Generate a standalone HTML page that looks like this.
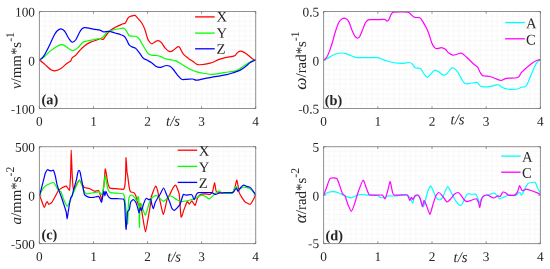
<!DOCTYPE html>
<html><head><meta charset="utf-8"><title>Figure</title>
<style>html,body{margin:0;padding:0;background:#fff}body{width:550px;height:269px;overflow:hidden}</style></head>
<body>
<svg width="550" height="269" viewBox="0 0 550 269" style="display:block">
<rect width="550" height="269" fill="#fff"/>
<path d="M44.81 11.50V108.50M50.21 11.50V108.50M55.62 11.50V108.50M61.03 11.50V108.50M66.44 11.50V108.50M71.84 11.50V108.50M77.25 11.50V108.50M82.66 11.50V108.50M88.07 11.50V108.50M93.47 11.50V108.50M98.88 11.50V108.50M104.29 11.50V108.50M109.70 11.50V108.50M115.10 11.50V108.50M120.51 11.50V108.50M125.92 11.50V108.50M131.33 11.50V108.50M136.73 11.50V108.50M142.14 11.50V108.50M147.55 11.50V108.50M152.96 11.50V108.50M158.36 11.50V108.50M163.77 11.50V108.50M169.18 11.50V108.50M174.59 11.50V108.50M179.99 11.50V108.50M185.40 11.50V108.50M190.81 11.50V108.50M196.22 11.50V108.50M201.62 11.50V108.50M207.03 11.50V108.50M212.44 11.50V108.50M217.85 11.50V108.50M223.25 11.50V108.50M228.66 11.50V108.50M234.07 11.50V108.50M239.48 11.50V108.50M244.88 11.50V108.50M250.29 11.50V108.50M39.40 16.35H255.70M39.40 21.20H255.70M39.40 26.05H255.70M39.40 30.90H255.70M39.40 35.75H255.70M39.40 40.60H255.70M39.40 45.45H255.70M39.40 50.30H255.70M39.40 55.15H255.70M39.40 60.00H255.70M39.40 64.85H255.70M39.40 69.70H255.70M39.40 74.55H255.70M39.40 79.40H255.70M39.40 84.25H255.70M39.40 89.10H255.70M39.40 93.95H255.70M39.40 98.80H255.70M39.40 103.65H255.70" stroke="#f6f6f6" stroke-width="0.7" fill="none"/>
<clipPath id="cla"><rect x="39.4" y="11.5" width="216.3" height="97.0"/></clipPath>
<g clip-path="url(#cla)" fill="none" stroke-width="1.2" stroke-linejoin="round" stroke-linecap="round">
<path d="M39.6 60.0C40.2 60.5 41.8 61.8 43.0 62.8C44.2 63.8 45.5 65.0 46.9 66.2C48.3 67.4 49.9 69.2 51.4 70.0C52.9 70.8 54.2 71.0 55.8 70.7C57.4 70.5 59.1 69.7 61.0 68.5C62.9 67.3 65.4 64.5 67.0 63.3C68.6 62.0 69.8 61.9 70.7 61.0C71.6 60.1 71.3 58.8 72.2 57.8C73.1 56.8 74.7 56.3 75.9 55.1C77.1 53.9 78.2 52.1 79.6 50.6C81.0 49.1 82.4 47.6 84.1 46.2C85.8 44.8 88.0 43.4 90.0 42.4C92.0 41.4 94.3 40.8 96.0 40.2C97.7 39.6 99.2 38.8 100.4 38.7C101.6 38.6 102.3 39.8 103.2 39.4C104.1 39.0 104.5 37.6 105.6 36.2C106.7 34.8 108.2 32.4 109.7 31.0C111.2 29.6 112.8 28.8 114.9 27.6C117.0 26.4 120.6 24.8 122.3 24.0C124.0 23.2 124.3 24.2 125.3 23.1C126.3 22.0 127.2 18.8 128.3 17.6C129.4 16.4 130.9 16.3 132.0 15.9C133.1 15.5 134.1 15.1 135.0 15.4C135.9 15.7 136.1 16.4 137.2 17.6C138.3 18.8 140.4 20.9 141.6 22.8C142.8 24.7 143.6 26.2 144.6 28.8C145.6 31.4 146.8 36.3 147.6 38.5C148.4 40.7 148.8 40.9 149.5 41.8C150.2 42.7 150.8 43.8 151.8 43.8C152.8 43.8 154.3 42.1 155.4 41.6C156.5 41.1 157.4 40.5 158.4 40.7C159.4 40.9 160.2 41.4 161.4 42.7C162.6 44.0 164.1 47.0 165.4 48.4C166.7 49.8 167.8 51.0 169.1 51.4C170.3 51.8 171.8 51.2 172.9 50.6C174.1 50.0 175.1 48.7 176.0 48.0C176.9 47.3 177.9 46.5 178.6 46.6C179.3 46.7 179.4 47.1 180.2 48.4C181.0 49.7 182.0 52.5 183.4 54.2C184.8 55.9 186.7 57.1 188.4 58.4C190.1 59.6 191.9 60.7 193.4 61.7C194.9 62.7 195.9 64.2 197.6 64.6C199.3 65.0 201.4 64.5 203.5 64.3C205.6 64.0 208.3 63.5 210.1 63.1C211.9 62.7 212.9 62.3 214.3 61.7C215.7 61.1 216.7 60.3 218.5 59.6C220.3 58.9 222.5 58.2 225.2 57.6C227.8 57.0 232.6 56.5 234.4 55.9C236.2 55.3 235.4 54.9 236.1 54.2C236.8 53.5 237.6 52.2 238.6 51.7C239.6 51.2 240.5 51.0 241.9 51.4C243.3 51.8 245.3 53.0 247.0 54.2C248.7 55.4 250.6 57.4 252.0 58.4C253.4 59.4 254.9 59.7 255.5 60.0" stroke="#ff0000"/>
<path d="M39.6 60.0C40.3 59.5 42.3 58.4 44.0 57.0C45.7 55.6 47.7 53.2 49.9 51.4C52.1 49.6 55.2 47.3 57.3 46.2C59.4 45.1 60.6 44.3 62.5 44.7C64.4 45.1 66.8 47.4 68.5 48.4C70.2 49.4 71.3 50.7 72.9 50.6C74.5 50.5 76.5 49.0 78.1 47.6C79.7 46.2 81.1 43.5 82.6 42.4C84.1 41.3 85.0 41.5 87.0 41.0C89.0 40.5 92.1 40.0 94.5 39.5C96.9 39.0 100.0 38.5 101.5 38.0C103.0 37.5 102.8 37.6 103.5 36.8C104.2 36.0 105.0 34.3 106.0 33.3C107.0 32.3 108.2 31.6 109.7 31.0C111.2 30.4 113.1 29.9 114.9 29.5C116.8 29.1 119.3 28.7 120.8 28.5C122.3 28.3 122.9 28.0 123.8 28.3C124.7 28.6 125.1 29.1 126.0 30.3C126.9 31.5 128.0 34.5 129.0 35.5C130.0 36.5 130.8 36.0 132.0 36.2C133.2 36.4 135.2 36.0 136.4 36.5C137.6 37.0 138.3 37.7 139.4 39.2C140.5 40.7 141.6 43.2 143.0 45.5C144.4 47.8 146.2 51.2 147.6 52.8C149.0 54.4 149.8 54.6 151.3 55.1C152.8 55.6 154.9 55.2 156.5 55.5C158.1 55.8 159.5 56.1 161.0 56.6C162.5 57.1 163.9 58.3 165.4 58.8C166.9 59.3 168.2 59.4 170.0 59.7C171.8 60.1 174.0 60.1 175.9 60.9C177.8 61.7 179.3 62.9 181.7 64.3C184.1 65.7 187.4 68.0 190.1 69.3C192.8 70.6 195.1 71.4 197.6 72.1C200.1 72.8 202.7 73.1 205.1 73.5C207.5 73.9 209.6 74.4 211.8 74.4C214.0 74.4 216.3 74.1 218.5 73.7C220.7 73.3 222.7 72.7 225.2 72.3C227.7 71.9 231.1 72.1 233.6 71.4C236.1 70.8 238.4 69.5 240.3 68.4C242.2 67.4 243.6 66.2 245.3 65.1C247.0 64.0 248.6 62.6 250.3 61.7C252.0 60.8 254.6 60.1 255.5 59.8" stroke="#00ff00"/>
<path d="M39.6 60.0C40.3 59.3 42.2 58.4 43.9 55.8C45.6 53.2 48.2 47.9 49.9 44.4C51.6 40.9 53.0 37.3 54.3 35.0C55.6 32.7 56.4 31.5 57.5 30.5C58.6 29.5 59.8 28.7 61.0 28.8C62.2 28.9 63.2 29.5 64.5 31.0C65.8 32.5 67.2 36.1 68.5 38.0C69.8 39.9 71.0 42.0 72.2 42.2C73.5 42.5 74.7 41.3 76.0 39.5C77.3 37.7 78.7 33.5 80.0 31.5C81.3 29.5 81.9 28.0 84.1 27.6C86.3 27.2 90.6 28.7 93.3 29.1C96.0 29.6 98.7 29.9 100.4 30.3C102.1 30.8 102.3 31.6 103.7 31.8C105.1 32.0 107.0 31.1 108.9 31.3C110.8 31.5 112.9 32.4 114.9 33.0C116.9 33.6 119.2 34.1 120.8 34.7C122.4 35.3 123.5 35.5 124.5 36.5C125.5 37.5 126.2 39.1 127.0 40.5C127.8 41.9 128.2 43.6 129.0 44.7C129.8 45.8 130.9 46.3 132.0 46.9C133.1 47.5 134.5 47.4 135.7 48.4C136.9 49.4 138.2 51.2 139.4 52.8C140.6 54.4 141.9 56.8 143.1 58.0C144.3 59.2 145.4 59.2 146.8 60.0C148.2 60.8 149.8 61.5 151.3 62.5C152.8 63.5 154.4 65.4 155.8 66.2C157.2 67.0 158.3 67.4 159.5 67.4C160.7 67.5 162.1 66.8 163.2 66.5C164.3 66.2 165.1 65.5 166.2 65.5C167.3 65.5 168.7 65.6 169.9 66.3C171.1 67.0 172.0 68.0 173.3 69.5C174.6 71.0 176.1 73.5 177.5 75.1C178.9 76.7 180.2 78.6 181.7 79.3C183.2 80.0 184.9 79.3 186.7 79.3C188.5 79.2 191.1 78.9 192.6 79.0C194.1 79.1 194.8 80.0 195.9 80.1C197.0 80.2 197.5 80.1 199.3 79.8C201.1 79.5 204.4 78.6 206.8 78.1C209.2 77.6 211.3 77.2 213.5 76.8C215.7 76.4 218.0 76.2 220.2 75.8C222.4 75.4 224.7 75.1 226.9 74.6C229.1 74.1 231.4 73.3 233.6 72.6C235.8 71.8 238.4 71.1 240.3 70.1C242.2 69.1 243.6 68.0 245.3 66.8C247.0 65.5 248.6 63.7 250.3 62.6C252.0 61.5 254.6 60.4 255.5 60.0" stroke="#0000ff"/>
</g>
<path d="M39.40 11.50H255.70V108.50H39.40ZM39.40 108.50v-2.2M39.40 11.50v2.2M93.47 108.50v-2.2M93.47 11.50v2.2M147.55 108.50v-2.2M147.55 11.50v2.2M201.62 108.50v-2.2M201.62 11.50v2.2M255.70 108.50v-2.2M255.70 11.50v2.2M39.40 11.50h2.2M255.70 11.50h-2.2M39.40 60.00h2.2M255.70 60.00h-2.2M39.40 108.50h2.2M255.70 108.50h-2.2" stroke="#747474" stroke-width="0.8" fill="none"/>
<path d="M329.02 11.50V108.50M334.44 11.50V108.50M339.86 11.50V108.50M345.28 11.50V108.50M350.70 11.50V108.50M356.12 11.50V108.50M361.54 11.50V108.50M366.96 11.50V108.50M372.38 11.50V108.50M377.80 11.50V108.50M383.22 11.50V108.50M388.64 11.50V108.50M394.06 11.50V108.50M399.48 11.50V108.50M404.90 11.50V108.50M410.32 11.50V108.50M415.74 11.50V108.50M421.16 11.50V108.50M426.58 11.50V108.50M432.00 11.50V108.50M437.42 11.50V108.50M442.84 11.50V108.50M448.26 11.50V108.50M453.68 11.50V108.50M459.10 11.50V108.50M464.52 11.50V108.50M469.94 11.50V108.50M475.36 11.50V108.50M480.78 11.50V108.50M486.20 11.50V108.50M491.62 11.50V108.50M497.04 11.50V108.50M502.46 11.50V108.50M507.88 11.50V108.50M513.30 11.50V108.50M518.72 11.50V108.50M524.14 11.50V108.50M529.56 11.50V108.50M534.98 11.50V108.50M323.60 16.35H540.40M323.60 21.20H540.40M323.60 26.05H540.40M323.60 30.90H540.40M323.60 35.75H540.40M323.60 40.60H540.40M323.60 45.45H540.40M323.60 50.30H540.40M323.60 55.15H540.40M323.60 60.00H540.40M323.60 64.85H540.40M323.60 69.70H540.40M323.60 74.55H540.40M323.60 79.40H540.40M323.60 84.25H540.40M323.60 89.10H540.40M323.60 93.95H540.40M323.60 98.80H540.40M323.60 103.65H540.40" stroke="#f6f6f6" stroke-width="0.7" fill="none"/>
<clipPath id="clb"><rect x="323.6" y="11.5" width="216.8" height="97.0"/></clipPath>
<g clip-path="url(#clb)" fill="none" stroke-width="1.2" stroke-linejoin="round" stroke-linecap="round">
<path d="M323.7 60.0C324.6 59.6 327.0 58.6 328.9 57.6C330.8 56.6 332.9 55.1 334.9 54.3C336.9 53.5 338.9 53.1 340.8 53.0C342.7 52.9 344.3 53.1 346.0 53.6C347.7 54.1 349.6 55.2 351.2 55.8C352.8 56.4 353.5 57.0 355.7 57.3C357.9 57.6 361.0 57.5 364.6 57.6C368.2 57.7 374.5 57.4 377.2 57.6C379.9 57.8 379.4 58.2 381.0 58.8C382.6 59.4 384.9 60.4 386.9 61.0C388.9 61.6 391.0 62.1 392.9 62.5C394.8 62.9 396.2 63.1 398.0 63.2C399.8 63.3 401.5 63.4 403.4 63.3C405.3 63.2 407.8 62.4 409.3 62.5C410.8 62.6 411.3 63.1 412.3 64.0C413.3 64.9 413.9 67.0 415.2 67.8C416.5 68.6 418.9 67.5 420.4 68.6C421.9 69.6 422.9 72.7 424.1 74.1C425.3 75.5 426.4 77.1 427.5 77.1C428.6 77.1 429.6 75.2 430.8 74.1C432.0 73.0 433.2 70.8 434.5 70.4C435.8 70.0 436.8 70.8 438.3 71.6C439.8 72.4 442.0 74.9 443.5 75.2C445.0 75.5 446.0 74.5 447.2 73.4C448.4 72.3 449.8 69.5 450.9 68.6C452.0 67.7 452.8 67.7 453.9 68.2C455.0 68.8 456.4 70.2 457.6 71.9C458.8 73.6 460.1 76.7 461.3 78.6C462.5 80.5 463.6 82.7 465.0 83.5C466.4 84.3 467.6 83.7 469.5 83.5C471.4 83.3 475.1 82.2 476.7 82.4C478.3 82.6 478.0 83.8 478.9 84.5C479.8 85.2 479.9 86.4 481.9 86.7C483.9 87.0 488.2 86.8 490.8 86.4C493.4 86.1 495.6 84.5 497.5 84.6C499.4 84.7 500.4 86.5 502.0 87.2C503.6 87.9 504.6 88.7 507.2 89.0C509.8 89.3 515.2 89.3 517.6 89.0C520.0 88.7 520.1 87.6 521.3 87.2C522.5 86.8 524.0 87.2 525.0 86.7C526.0 86.2 526.2 86.1 527.2 84.2C528.2 82.3 529.8 78.3 531.0 75.3C532.2 72.3 533.6 68.7 534.7 66.4C535.8 64.1 536.8 62.7 537.7 61.6C538.6 60.5 539.5 60.0 539.9 59.7" stroke="#00ffff"/>
<path d="M323.7 60.0C324.2 59.5 325.7 58.9 326.7 57.3C327.7 55.7 328.7 53.2 329.7 50.6C330.7 48.0 331.7 44.6 332.6 41.7C333.5 38.8 333.9 36.4 334.9 33.3C335.9 30.1 337.4 25.2 338.6 22.8C339.8 20.4 341.1 19.5 342.3 18.8C343.5 18.1 344.9 18.1 346.0 18.7C347.1 19.2 348.0 20.2 349.0 22.1C350.0 24.0 351.0 27.9 352.0 30.3C353.0 32.6 354.0 34.9 354.9 36.2C355.8 37.5 356.4 37.9 357.2 38.0C357.9 38.1 358.5 38.3 359.4 37.0C360.3 35.7 361.4 32.7 362.4 30.3C363.4 27.9 364.4 24.5 365.4 22.8C366.4 21.1 367.2 20.4 368.3 19.9C369.4 19.4 370.1 19.7 372.0 19.6C373.9 19.6 377.4 19.6 379.5 19.6C381.6 19.6 383.5 19.1 384.7 19.4C385.9 19.6 386.2 21.0 386.9 21.1C387.6 21.2 387.9 21.1 388.7 19.9C389.4 18.7 390.6 15.2 391.4 13.9C392.2 12.6 392.4 12.5 393.6 12.2C394.9 11.9 396.5 11.9 398.9 11.9C401.3 11.9 405.7 11.6 407.8 12.1C409.9 12.6 410.5 14.2 411.6 15.1C412.7 16.0 413.3 16.9 414.5 17.3C415.7 17.7 417.9 17.3 419.0 17.6C420.1 17.9 420.1 17.6 421.2 19.1C422.3 20.6 424.4 24.2 425.7 26.6C426.9 29.0 427.7 30.7 428.7 33.3C429.7 35.9 430.6 40.0 431.6 42.4C432.6 44.8 433.6 46.5 434.6 47.6C435.6 48.7 436.5 48.7 437.6 48.7C438.7 48.7 440.1 47.5 441.3 47.6C442.5 47.7 443.6 48.1 445.0 49.1C446.4 50.1 448.1 52.6 449.5 53.6C450.9 54.6 451.8 55.0 453.2 55.1C454.6 55.2 456.3 54.3 457.7 54.0C459.1 53.7 460.3 52.9 461.4 53.1C462.5 53.3 462.9 54.0 464.3 55.1C465.7 56.2 467.9 58.5 469.5 60.0C471.1 61.5 472.5 63.0 473.9 64.2C475.3 65.4 476.6 66.0 477.7 67.4C478.8 68.8 479.4 71.2 480.2 72.5C481.0 73.8 481.5 74.8 482.4 75.4C483.3 76.0 484.5 75.9 485.8 76.1C487.1 76.3 488.5 76.1 490.1 76.5C491.7 76.9 493.5 77.8 495.3 78.5C497.1 79.2 499.4 80.5 501.2 80.5C503.0 80.5 503.7 78.8 506.4 78.3C509.1 77.8 515.1 78.5 517.6 77.5C520.1 76.5 519.8 74.2 521.3 72.6C522.8 71.0 524.8 69.3 526.5 67.8C528.2 66.3 530.1 64.6 531.7 63.4C533.3 62.2 534.8 61.3 536.2 60.7C537.6 60.1 539.3 59.9 539.9 59.7" stroke="#ff00ff"/>
</g>
<path d="M323.60 11.50H540.40V108.50H323.60ZM323.60 108.50v-2.2M323.60 11.50v2.2M377.80 108.50v-2.2M377.80 11.50v2.2M432.00 108.50v-2.2M432.00 11.50v2.2M486.20 108.50v-2.2M486.20 11.50v2.2M540.40 108.50v-2.2M540.40 11.50v2.2M323.60 11.50h2.2M540.40 11.50h-2.2M323.60 60.00h2.2M540.40 60.00h-2.2M323.60 108.50h2.2M540.40 108.50h-2.2" stroke="#747474" stroke-width="0.8" fill="none"/>
<path d="M44.81 146.70V243.60M50.21 146.70V243.60M55.62 146.70V243.60M61.03 146.70V243.60M66.44 146.70V243.60M71.84 146.70V243.60M77.25 146.70V243.60M82.66 146.70V243.60M88.07 146.70V243.60M93.47 146.70V243.60M98.88 146.70V243.60M104.29 146.70V243.60M109.70 146.70V243.60M115.10 146.70V243.60M120.51 146.70V243.60M125.92 146.70V243.60M131.33 146.70V243.60M136.73 146.70V243.60M142.14 146.70V243.60M147.55 146.70V243.60M152.96 146.70V243.60M158.36 146.70V243.60M163.77 146.70V243.60M169.18 146.70V243.60M174.59 146.70V243.60M179.99 146.70V243.60M185.40 146.70V243.60M190.81 146.70V243.60M196.22 146.70V243.60M201.62 146.70V243.60M207.03 146.70V243.60M212.44 146.70V243.60M217.85 146.70V243.60M223.25 146.70V243.60M228.66 146.70V243.60M234.07 146.70V243.60M239.48 146.70V243.60M244.88 146.70V243.60M250.29 146.70V243.60M39.40 151.54H255.70M39.40 156.39H255.70M39.40 161.23H255.70M39.40 166.08H255.70M39.40 170.92H255.70M39.40 175.77H255.70M39.40 180.62H255.70M39.40 185.46H255.70M39.40 190.31H255.70M39.40 195.15H255.70M39.40 200.00H255.70M39.40 204.84H255.70M39.40 209.69H255.70M39.40 214.53H255.70M39.40 219.38H255.70M39.40 224.22H255.70M39.40 229.06H255.70M39.40 233.91H255.70M39.40 238.75H255.70" stroke="#f6f6f6" stroke-width="0.7" fill="none"/>
<clipPath id="clc"><rect x="39.4" y="146.7" width="216.3" height="96.9"/></clipPath>
<g clip-path="url(#clc)" fill="none" stroke-width="1.2" stroke-linejoin="round" stroke-linecap="round">
<path d="M39.6 195.2C39.8 195.9 41.8 201.2 42.2 202.3C42.6 203.4 44.0 207.4 44.4 207.5C44.8 207.6 45.8 203.5 46.1 203.0C46.4 202.5 47.2 201.6 47.4 201.7C47.6 201.8 48.3 204.2 48.7 204.3C49.1 204.4 51.3 203.0 51.9 202.3C52.5 201.6 54.6 197.6 55.2 196.5C55.8 195.4 57.8 191.4 58.4 190.6C59.0 189.8 61.0 188.4 61.7 188.0C62.4 187.6 65.5 185.9 66.2 186.1C66.9 186.3 69.1 191.0 69.5 190.0C69.9 189.0 70.4 178.7 70.6 175.0C70.8 171.3 71.1 150.2 71.2 150.2C71.3 150.2 72.0 171.4 72.2 175.0C72.4 178.6 73.1 188.2 73.4 189.3C73.7 190.4 74.8 187.5 75.3 186.7C75.8 185.9 78.6 180.4 79.2 180.2C79.8 180.0 81.3 183.4 81.8 184.1C82.3 184.8 83.7 187.0 84.4 187.4C85.1 187.8 88.6 188.3 89.6 188.7C90.6 189.1 93.9 191.1 94.8 191.3C95.7 191.5 98.2 189.9 98.8 190.6C99.4 191.3 101.1 198.3 101.4 199.1C101.7 199.9 101.8 200.4 102.0 199.1C102.2 197.8 103.6 188.2 103.9 185.4C104.2 182.6 105.0 170.1 105.2 169.1C105.4 168.1 106.3 173.7 106.5 175.0C106.7 176.3 107.5 181.6 107.8 182.8C108.1 184.0 109.1 187.4 109.8 188.0C110.5 188.6 114.3 188.6 115.6 188.7C116.9 188.8 122.6 189.5 123.4 189.3C124.2 189.1 124.5 188.0 124.7 186.7C124.9 185.4 125.5 177.7 125.6 175.0C125.7 172.3 125.9 158.1 126.0 157.8C126.1 157.5 126.9 170.4 127.0 172.0C127.1 173.6 127.4 173.5 127.6 175.0C127.8 176.5 129.0 186.4 129.3 188.0C129.6 189.6 130.2 191.5 130.6 191.9C131.0 192.3 133.3 192.2 133.8 192.6C134.3 193.0 135.5 195.0 135.8 195.8C136.1 196.6 136.8 200.1 137.1 201.0C137.4 201.9 138.7 205.4 139.0 205.6C139.3 205.8 140.0 202.8 140.3 203.6C140.6 204.4 141.8 211.7 142.3 214.3C142.8 216.9 144.9 231.9 145.5 231.9C146.1 231.9 148.3 217.0 148.8 214.3C149.3 211.6 150.5 204.3 150.7 202.6C150.9 200.9 150.9 198.0 151.4 196.5C151.9 195.0 155.2 186.3 155.9 186.1C156.6 185.9 158.1 193.1 158.5 194.5C158.9 195.9 159.5 199.2 160.0 201.0C160.5 202.8 162.7 214.5 163.4 214.3C164.1 214.1 166.6 200.7 167.2 198.9C167.8 197.1 169.3 195.5 169.8 194.5C170.3 193.5 172.5 188.9 173.0 188.0C173.5 187.1 175.2 185.0 175.6 185.1C176.0 185.2 177.3 188.4 177.6 189.3C177.9 190.2 179.0 192.4 179.3 195.0C179.6 197.6 180.7 215.8 181.1 217.1C181.5 218.4 183.5 210.8 184.1 209.3C184.7 207.8 186.8 202.0 187.3 201.5C187.8 201.0 188.9 204.2 189.3 204.1C189.7 204.0 191.4 200.8 191.9 200.9C192.4 201.0 194.6 205.7 195.1 205.4C195.6 205.1 197.2 198.6 197.7 197.6C198.2 196.6 199.6 194.8 200.3 194.5C201.0 194.2 204.6 193.9 205.5 193.9C206.4 193.9 209.4 194.5 210.1 194.3C210.8 194.1 212.3 192.4 212.7 191.3C213.1 190.2 214.3 182.5 214.6 182.5C214.9 182.5 215.7 190.4 216.2 191.3C216.7 192.2 218.6 192.4 219.5 192.6C220.4 192.8 224.8 193.2 226.0 193.2C227.2 193.2 231.7 193.0 232.5 192.6C233.3 192.2 234.1 190.5 234.5 189.3C234.9 188.1 236.4 180.6 236.7 180.2C237.0 179.8 237.8 184.3 238.0 185.4C238.2 186.5 238.7 190.8 239.0 191.9C239.3 193.0 241.0 196.2 241.6 197.1C242.2 198.0 244.1 201.0 244.9 201.7C245.7 202.4 249.3 204.5 250.1 204.3C250.9 204.1 252.8 200.5 253.3 199.7C253.8 198.9 255.4 195.6 255.6 195.2" stroke="#ff0000"/>
<path d="M39.6 195.2C39.9 194.6 42.2 189.6 42.8 188.7C43.4 187.8 45.1 186.0 46.1 185.4C47.1 184.8 52.4 182.6 53.2 182.5C54.0 182.4 54.7 184.0 55.2 184.8C55.7 185.6 57.9 189.9 58.4 190.6C58.9 191.3 60.4 190.9 61.0 191.9C61.6 192.9 63.7 199.7 64.3 201.0C64.9 202.3 67.0 206.3 67.5 206.2C68.0 206.1 69.6 201.5 70.1 200.4C70.6 199.3 72.1 195.8 72.7 194.5C73.3 193.2 75.4 188.0 76.0 186.7C76.6 185.4 78.7 180.6 79.2 180.2C79.7 179.8 80.8 181.8 81.2 182.8C81.6 183.8 83.3 189.6 83.8 190.6C84.3 191.6 85.6 193.7 86.4 193.9C87.2 194.1 91.0 193.2 92.2 193.0C93.4 192.8 97.9 191.8 98.8 191.9C99.7 192.0 101.0 194.4 101.4 194.5C101.8 194.6 102.4 193.4 102.6 192.6C102.8 191.8 103.7 187.0 103.9 185.4C104.1 183.8 105.0 175.8 105.2 175.6C105.4 175.4 106.2 181.4 106.5 182.8C106.8 184.2 108.1 189.7 108.5 190.6C108.9 191.5 109.6 192.4 110.4 192.6C111.2 192.8 115.7 193.1 116.9 193.2C118.1 193.3 122.7 193.4 123.4 193.9C124.1 194.4 124.5 196.9 124.7 198.4C124.9 199.9 125.7 207.5 126.0 209.9C126.3 212.3 127.4 224.9 127.6 224.1C127.8 223.3 128.4 203.6 128.6 201.0C128.8 198.4 129.5 196.3 129.9 195.8C130.3 195.3 132.0 195.0 132.5 195.2C133.0 195.4 134.7 197.9 135.1 198.4C135.5 198.9 136.8 201.2 137.1 201.0C137.4 200.8 137.8 196.3 138.0 196.5C138.2 196.7 138.9 200.7 139.0 203.6C139.1 206.5 139.3 227.1 139.4 227.3C139.5 227.5 139.8 208.2 140.0 206.0C140.2 203.8 141.2 203.7 141.5 204.0C141.8 204.3 142.5 208.1 142.9 209.1C143.3 210.1 144.9 215.6 145.5 215.0C146.1 214.4 148.9 204.0 149.4 202.6C149.9 201.2 150.3 200.3 150.7 199.7C151.1 199.1 152.8 196.9 153.4 196.5C154.0 196.1 156.6 195.6 157.3 195.8C158.0 196.0 159.9 198.6 160.5 199.1C161.1 199.6 162.7 201.3 163.3 201.3C163.9 201.3 165.9 199.6 166.5 199.1C167.1 198.6 169.2 196.0 169.8 195.8C170.4 195.6 172.3 196.7 173.0 197.1C173.7 197.5 176.2 199.3 176.9 199.7C177.6 200.1 180.0 201.6 180.8 201.7C181.6 201.8 185.0 201.2 186.0 201.0C187.0 200.8 190.4 199.9 191.2 199.7C192.0 199.5 193.9 199.3 194.5 199.1C195.1 198.9 197.0 197.5 197.7 197.1C198.4 196.7 200.9 195.3 201.6 195.2C202.3 195.1 204.8 196.2 205.5 196.5C206.2 196.8 208.4 199.0 209.1 198.9C209.8 198.8 212.3 196.4 213.0 195.8C213.7 195.2 215.7 193.1 216.3 192.6C216.9 192.1 218.8 190.9 219.3 190.9C219.8 190.9 221.4 192.8 222.1 193.0C222.8 193.2 226.3 193.5 227.3 193.5C228.3 193.5 231.8 193.5 232.5 193.0C233.2 192.5 234.2 188.6 234.5 188.0C234.8 187.4 235.9 186.2 236.2 186.4C236.5 186.6 237.6 189.8 238.0 190.0C238.4 190.2 239.8 189.0 240.3 188.7C240.8 188.4 242.7 187.0 243.6 187.0C244.5 187.0 249.2 188.2 250.1 188.7C251.0 189.2 252.8 191.3 253.3 191.9C253.8 192.5 255.4 194.5 255.6 194.8" stroke="#00ff00"/>
<path d="M39.6 195.2C39.8 194.3 41.7 187.3 42.2 185.4C42.7 183.5 44.5 176.2 44.8 175.0C45.1 173.8 45.2 173.5 45.4 173.0C45.6 172.5 47.0 169.9 47.4 169.7C47.8 169.5 48.9 170.3 49.3 170.4C49.7 170.5 50.9 171.0 51.3 171.0C51.7 171.0 52.9 169.8 53.2 170.0C53.5 170.2 54.2 172.1 54.5 173.0C54.8 173.9 55.9 178.8 56.1 179.9C56.3 181.0 56.8 183.6 57.1 184.8C57.4 186.0 59.2 191.2 59.7 192.6C60.2 194.0 61.7 197.9 62.3 199.7C62.9 201.5 65.8 210.2 66.2 212.0C66.6 213.8 66.9 218.9 67.1 218.9C67.3 218.9 67.9 214.0 68.2 212.0C68.5 210.0 70.4 199.3 70.8 197.8C71.2 196.3 71.8 196.7 72.1 195.8C72.4 194.9 73.6 189.5 74.0 188.0C74.4 186.5 76.1 181.3 76.4 179.9C76.7 178.5 77.5 173.9 77.7 173.0C77.9 172.1 78.8 170.4 79.0 170.4C79.2 170.4 80.1 172.1 80.3 173.0C80.5 173.9 81.4 178.9 81.6 179.9C81.8 180.9 82.2 182.7 82.5 184.1C82.8 185.5 83.9 193.3 84.4 194.5C84.9 195.7 87.5 196.8 88.3 197.1C89.1 197.4 92.5 197.5 93.5 197.4C94.5 197.3 98.1 196.0 98.8 196.5C99.5 197.0 101.0 202.2 101.4 202.3C101.8 202.4 102.4 198.1 102.6 197.1C102.8 196.1 103.7 191.4 103.9 191.3C104.1 191.2 104.7 195.8 104.9 195.8C105.1 195.8 105.6 191.3 105.9 191.3C106.2 191.3 107.4 195.1 107.8 195.8C108.2 196.5 109.6 198.1 110.4 198.4C111.2 198.7 115.7 198.6 116.9 198.7C118.1 198.8 122.7 198.6 123.4 199.1C124.1 199.6 124.5 200.8 124.7 203.6C124.9 206.4 125.7 228.5 126.0 229.3C126.3 230.1 127.2 213.8 127.5 212.0C127.8 210.2 129.0 210.8 129.3 209.9C129.6 209.0 130.2 203.3 130.6 202.3C131.0 201.3 132.7 199.7 133.2 199.7C133.7 199.7 135.4 201.5 135.8 202.3C136.2 203.1 137.4 206.8 137.7 207.8C138.0 208.8 138.8 213.0 139.0 213.0C139.2 213.0 140.1 208.0 140.3 207.8C140.5 207.6 141.3 210.8 141.6 210.4C141.9 210.0 143.2 205.0 143.6 203.9C144.0 202.8 145.7 198.8 146.2 198.4C146.7 198.0 148.4 199.6 148.8 199.7C149.2 199.8 150.4 198.6 150.7 199.1C151.0 199.6 151.7 204.0 152.0 204.9C152.3 205.8 153.1 208.7 153.4 208.5C153.7 208.3 154.8 203.4 155.3 202.3C155.8 201.2 158.1 197.2 158.5 196.5C158.9 195.8 159.5 195.3 160.0 194.5C160.5 193.7 163.0 188.0 163.6 188.0C164.2 188.0 165.9 193.2 166.5 194.5C167.1 195.8 169.3 201.0 169.8 202.3C170.3 203.6 171.3 207.2 171.7 208.0C172.1 208.8 173.7 210.5 174.3 210.4C174.9 210.3 177.0 208.0 177.6 207.4C178.2 206.8 179.8 204.8 180.2 204.1C180.6 203.4 181.2 200.6 181.5 199.7C181.8 198.8 183.0 194.9 183.4 194.5C183.8 194.1 185.3 195.2 186.0 195.2C186.7 195.2 190.6 194.4 191.2 194.5C191.8 194.6 192.2 195.3 192.5 195.8C192.8 196.3 193.7 199.7 194.1 199.6C194.5 199.5 196.0 195.2 196.4 194.5C196.8 193.8 197.8 192.8 198.4 192.6C199.0 192.4 201.7 192.6 202.9 192.6C204.1 192.6 210.5 192.4 211.7 192.6C212.9 192.8 214.9 194.5 215.6 194.5C216.3 194.5 218.5 193.2 219.5 193.0C220.5 192.8 224.8 192.6 226.0 192.6C227.2 192.6 231.7 192.8 232.5 192.6C233.3 192.4 234.1 191.0 234.5 190.6C234.9 190.2 236.1 187.9 236.4 188.0C236.7 188.1 237.6 191.3 238.0 191.3C238.4 191.3 239.8 188.6 240.3 188.0C240.8 187.4 243.0 185.2 243.6 185.1C244.2 185.0 246.2 186.2 246.8 186.4C247.4 186.6 249.5 186.9 250.1 187.4C250.7 187.9 252.8 190.6 253.3 191.3C253.8 192.0 255.4 194.2 255.6 194.5" stroke="#0000ff"/>
</g>
<path d="M39.40 146.70H255.70V243.60H39.40ZM39.40 243.60v-2.2M39.40 146.70v2.2M93.47 243.60v-2.2M93.47 146.70v2.2M147.55 243.60v-2.2M147.55 146.70v2.2M201.62 243.60v-2.2M201.62 146.70v2.2M255.70 243.60v-2.2M255.70 146.70v2.2M39.40 146.70h2.2M255.70 146.70h-2.2M39.40 195.15h2.2M255.70 195.15h-2.2M39.40 243.60h2.2M255.70 243.60h-2.2" stroke="#747474" stroke-width="0.8" fill="none"/>
<path d="M329.02 146.70V243.60M334.44 146.70V243.60M339.86 146.70V243.60M345.28 146.70V243.60M350.70 146.70V243.60M356.12 146.70V243.60M361.54 146.70V243.60M366.96 146.70V243.60M372.38 146.70V243.60M377.80 146.70V243.60M383.22 146.70V243.60M388.64 146.70V243.60M394.06 146.70V243.60M399.48 146.70V243.60M404.90 146.70V243.60M410.32 146.70V243.60M415.74 146.70V243.60M421.16 146.70V243.60M426.58 146.70V243.60M432.00 146.70V243.60M437.42 146.70V243.60M442.84 146.70V243.60M448.26 146.70V243.60M453.68 146.70V243.60M459.10 146.70V243.60M464.52 146.70V243.60M469.94 146.70V243.60M475.36 146.70V243.60M480.78 146.70V243.60M486.20 146.70V243.60M491.62 146.70V243.60M497.04 146.70V243.60M502.46 146.70V243.60M507.88 146.70V243.60M513.30 146.70V243.60M518.72 146.70V243.60M524.14 146.70V243.60M529.56 146.70V243.60M534.98 146.70V243.60M323.60 151.54H540.40M323.60 156.39H540.40M323.60 161.23H540.40M323.60 166.08H540.40M323.60 170.92H540.40M323.60 175.77H540.40M323.60 180.62H540.40M323.60 185.46H540.40M323.60 190.31H540.40M323.60 195.15H540.40M323.60 200.00H540.40M323.60 204.84H540.40M323.60 209.69H540.40M323.60 214.53H540.40M323.60 219.38H540.40M323.60 224.22H540.40M323.60 229.06H540.40M323.60 233.91H540.40M323.60 238.75H540.40" stroke="#f6f6f6" stroke-width="0.7" fill="none"/>
<clipPath id="cld"><rect x="323.6" y="146.7" width="216.8" height="96.9"/></clipPath>
<g clip-path="url(#cld)" fill="none" stroke-width="1.2" stroke-linejoin="round" stroke-linecap="round">
<path d="M323.7 195.1C324.1 194.8 327.4 192.6 328.4 192.3C329.4 192.0 332.9 191.6 333.9 191.7C334.9 191.8 338.5 192.8 339.5 193.2C340.5 193.6 344.1 195.6 345.1 196.0C346.1 196.4 349.7 197.9 350.7 197.9C351.7 197.9 354.4 196.3 355.3 196.0C356.2 195.7 358.8 194.6 360.0 194.5C361.2 194.4 366.7 195.0 368.3 195.1C369.9 195.2 376.5 195.3 377.6 195.5C378.7 195.7 379.7 197.3 380.4 197.5C381.1 197.7 384.4 197.6 385.1 197.5C385.8 197.4 386.9 196.1 387.8 196.0C388.7 195.9 393.2 196.0 394.3 196.0C395.4 196.0 398.7 195.6 399.9 195.5C401.1 195.4 406.0 195.0 406.9 195.1C407.8 195.2 408.7 196.0 409.1 196.5C409.5 197.0 411.0 199.7 411.3 200.3C411.6 200.9 412.5 203.5 412.8 203.2C413.1 202.9 413.9 198.1 414.3 197.3C414.7 196.5 416.8 195.1 417.3 195.1C417.8 195.1 419.1 196.5 419.5 197.3C419.9 198.1 421.2 203.1 421.5 204.0C421.8 204.9 422.6 207.1 422.9 207.0C423.2 206.9 424.3 204.4 424.7 203.2C425.1 202.0 426.4 195.9 426.9 194.3C427.4 192.7 429.8 186.5 430.4 186.1C431.0 185.7 432.4 188.9 432.9 189.9C433.4 190.9 435.3 196.4 435.9 197.3C436.5 198.2 439.0 200.0 439.6 200.0C440.2 200.0 442.0 198.2 442.6 197.3C443.2 196.4 445.0 191.6 445.5 190.6C446.0 189.6 447.3 186.5 447.8 186.6C448.3 186.7 450.1 190.2 450.7 191.3C451.3 192.4 453.7 197.6 454.4 198.8C455.1 200.0 457.6 203.4 458.2 204.0C458.8 204.6 460.0 205.6 460.4 205.5C460.8 205.4 462.1 204.1 462.6 203.2C463.1 202.3 465.6 196.7 466.1 195.8C466.6 194.9 467.9 193.7 468.4 193.6C468.9 193.5 470.6 194.2 471.3 194.3C472.0 194.4 475.2 193.9 475.8 194.3C476.4 194.7 477.7 198.0 478.0 198.8C478.3 199.6 479.2 203.3 479.5 203.2C479.8 203.1 481.2 198.7 481.7 198.0C482.2 197.3 483.9 196.1 484.7 195.8C485.5 195.5 489.0 194.6 489.9 194.3C490.8 194.0 493.7 193.0 494.4 193.1C495.1 193.2 496.9 195.3 497.4 195.8C497.9 196.3 499.0 198.7 499.6 198.8C500.2 198.9 503.2 197.3 504.0 197.0C504.8 196.7 507.4 195.2 508.5 195.1C509.6 195.0 514.9 195.8 515.9 195.5C516.9 195.2 519.1 192.1 519.6 192.1C520.1 192.1 521.2 195.4 521.7 195.1C522.2 194.8 524.4 189.5 525.0 188.4C525.6 187.3 527.5 183.9 528.4 183.3C529.3 182.7 534.3 182.0 535.1 182.4C535.9 182.8 536.8 186.3 537.3 187.3C537.8 188.3 539.9 192.4 540.2 192.9" stroke="#00ffff"/>
<path d="M323.7 195.1C324.0 194.4 325.9 189.3 326.5 187.7C327.1 186.1 329.2 179.3 330.2 178.4C331.2 177.5 335.8 177.8 336.7 178.4C337.6 179.0 339.0 183.5 339.5 184.9C340.0 186.3 341.8 192.2 342.3 193.2C342.8 194.2 344.6 195.0 345.1 196.0C345.6 197.0 347.3 203.0 347.9 204.4C348.5 205.8 350.6 211.3 351.2 211.3C351.8 211.3 353.8 206.2 354.4 204.4C355.0 202.6 357.3 194.6 358.1 192.3C358.9 190.0 362.3 180.5 363.1 180.2C363.9 179.9 365.9 187.2 366.5 188.6C367.1 190.0 368.4 194.1 369.3 194.7C370.2 195.3 374.6 195.1 375.8 195.1C377.0 195.1 381.4 194.8 382.3 195.1C383.2 195.4 384.6 199.1 385.1 198.8C385.6 198.5 386.8 193.9 387.3 192.3C387.8 190.7 389.7 181.7 390.1 181.5C390.5 181.3 391.7 189.1 392.1 190.4C392.5 191.7 392.6 194.7 394.0 195.1C395.4 195.5 405.6 194.6 406.9 194.8C408.2 195.0 408.1 196.8 408.4 197.3C408.7 197.8 409.6 200.6 409.9 200.6C410.2 200.6 411.0 197.4 411.3 197.3C411.6 197.2 412.4 199.6 412.8 199.5C413.2 199.4 414.6 196.2 415.1 195.8C415.6 195.4 417.5 194.8 418.0 195.1C418.5 195.4 419.9 197.7 420.3 198.8C420.7 199.9 422.2 206.3 422.5 206.5C422.8 206.7 423.7 200.8 424.0 200.6C424.3 200.4 425.6 203.4 426.2 204.7C426.8 206.0 429.3 214.4 429.9 214.4C430.5 214.4 432.3 206.4 432.9 204.7C433.5 203.0 435.3 196.9 435.9 195.8C436.5 194.7 438.2 192.6 438.8 192.5C439.4 192.4 441.0 194.2 441.8 195.1C442.6 196.0 446.2 201.7 447.0 202.0C447.8 202.3 450.0 199.5 450.7 198.8C451.4 198.1 453.7 194.9 454.4 194.3C455.1 193.7 457.6 192.4 458.2 192.5C458.8 192.6 460.4 194.4 460.9 195.1C461.4 195.8 463.3 198.9 463.9 199.5C464.5 200.1 466.2 201.6 466.9 201.7C467.6 201.8 470.4 200.6 471.3 200.3C472.2 200.0 475.8 198.6 476.5 198.8C477.2 199.0 478.2 201.7 478.5 202.5C478.8 203.3 479.5 207.7 479.8 207.4C480.1 207.1 481.0 200.6 481.4 199.5C481.8 198.4 483.4 196.2 484.0 195.8C484.6 195.4 486.8 194.9 487.7 195.1C488.6 195.3 492.6 197.9 493.6 198.0C494.6 198.1 497.5 195.9 498.1 195.8C498.7 195.7 499.9 196.8 500.3 196.5C500.7 196.2 502.3 192.4 502.8 192.1C503.3 191.8 505.0 192.5 505.5 192.8C506.0 193.1 507.7 194.9 508.5 195.1C509.3 195.3 513.6 195.4 514.4 195.1C515.2 194.8 516.9 193.0 517.4 192.1C517.9 191.2 519.2 185.8 519.6 185.7C520.0 185.6 521.6 190.4 522.2 190.7C522.8 191.0 525.3 189.1 526.2 189.1C527.1 189.1 530.7 190.3 531.7 190.7C532.7 191.1 536.5 192.6 537.3 192.9C538.1 193.2 539.9 194.3 540.2 194.4" stroke="#ff00ff"/>
</g>
<path d="M323.60 146.70H540.40V243.60H323.60ZM323.60 243.60v-2.2M323.60 146.70v2.2M377.80 243.60v-2.2M377.80 146.70v2.2M432.00 243.60v-2.2M432.00 146.70v2.2M486.20 243.60v-2.2M486.20 146.70v2.2M540.40 243.60v-2.2M540.40 146.70v2.2M323.60 146.70h2.2M540.40 146.70h-2.2M323.60 195.15h2.2M540.40 195.15h-2.2M323.60 243.60h2.2M540.40 243.60h-2.2" stroke="#747474" stroke-width="0.8" fill="none"/>
<g font-family="'Liberation Serif', 'Times New Roman', serif" font-size="13.3" fill="#262626" text-rendering="geometricPrecision">
<text transform="translate(35.00 16.60) rotate(0.04)" text-anchor="end">100</text>
<text transform="translate(35.00 65.45) rotate(0.04)" text-anchor="end">0</text>
<text transform="translate(35.00 113.80) rotate(0.04)" text-anchor="end">-100</text>
<text transform="translate(39.40 125.80) rotate(0.04)" text-anchor="middle">0</text>
<text transform="translate(93.47 125.80) rotate(0.04)" text-anchor="middle">1</text>
<text transform="translate(147.55 125.80) rotate(0.04)" text-anchor="middle">2</text>
<text transform="translate(201.62 125.80) rotate(0.04)" text-anchor="middle">3</text>
<text transform="translate(255.70 125.80) rotate(0.04)" text-anchor="middle">4</text>
<text transform="translate(166.10 125.80) rotate(0.04)" font-style="italic" font-size="14.7">t/s</text>
<text transform="translate(41.60 104.20) rotate(0.04)" font-weight="bold" font-size="14.3">(a)</text>
<text transform="translate(20.8 60.5) rotate(-90)" text-anchor="middle" font-size="14.9"><tspan font-style="italic">v</tspan>/mm*s<tspan dy="-7.3" font-size="11.8">-1</tspan></text>
<path d="M195.1 16.9H214.7" stroke="#ff0000" stroke-width="1.3"/>
<text transform="translate(216.40 21.50) rotate(0.04)" font-size="14.7">X</text>
<path d="M195.1 33.1H214.7" stroke="#00ff00" stroke-width="1.3"/>
<text transform="translate(216.40 37.70) rotate(0.04)" font-size="14.7">Y</text>
<path d="M195.1 48.8H214.7" stroke="#0000ff" stroke-width="1.3"/>
<text transform="translate(216.40 53.80) rotate(0.04)" font-size="14.7">Z</text>
<text transform="translate(319.20 16.60) rotate(0.04)" text-anchor="end">0.5</text>
<text transform="translate(319.20 65.45) rotate(0.04)" text-anchor="end">0</text>
<text transform="translate(319.20 113.50) rotate(0.04)" text-anchor="end">-0.5</text>
<text transform="translate(323.60 125.80) rotate(0.04)" text-anchor="middle">0</text>
<text transform="translate(377.80 125.80) rotate(0.04)" text-anchor="middle">1</text>
<text transform="translate(432.00 125.80) rotate(0.04)" text-anchor="middle">2</text>
<text transform="translate(486.20 125.80) rotate(0.04)" text-anchor="middle">3</text>
<text transform="translate(540.40 125.80) rotate(0.04)" text-anchor="middle">4</text>
<text transform="translate(450.60 124.30) rotate(0.04)" font-style="italic" font-size="14.7">t/s</text>
<text transform="translate(324.70 104.90) rotate(0.04)" font-weight="bold" font-size="14.3">(b)</text>
<text transform="translate(306.0 60.5) rotate(-90)" text-anchor="middle" font-size="14.9"><tspan font-style="italic" font-size="17.3">ω</tspan>/rad*s<tspan dy="-7.3" font-size="11.8">-1</tspan></text>
<path d="M505.1 22.6H524.9" stroke="#00ffff" stroke-width="1.3"/>
<text transform="translate(525.90 28.20) rotate(0.04)" font-size="14.7">A</text>
<path d="M505.1 38.8H524.9" stroke="#ff00ff" stroke-width="1.3"/>
<text transform="translate(525.90 44.40) rotate(0.04)" font-size="14.7">C</text>
<text transform="translate(35.00 151.80) rotate(0.04)" text-anchor="end">500</text>
<text transform="translate(35.00 200.60) rotate(0.04)" text-anchor="end">0</text>
<text transform="translate(35.00 248.80) rotate(0.04)" text-anchor="end">-500</text>
<text transform="translate(39.40 260.90) rotate(0.04)" text-anchor="middle">0</text>
<text transform="translate(93.47 260.90) rotate(0.04)" text-anchor="middle">1</text>
<text transform="translate(147.55 260.90) rotate(0.04)" text-anchor="middle">2</text>
<text transform="translate(201.62 260.90) rotate(0.04)" text-anchor="middle">3</text>
<text transform="translate(255.70 260.90) rotate(0.04)" text-anchor="middle">4</text>
<text transform="translate(167.20 261.50) rotate(0.04)" font-style="italic" font-size="14.7">t/s</text>
<text transform="translate(41.50 239.30) rotate(0.04)" font-weight="bold" font-size="14.3">(c)</text>
<text transform="translate(20.8 195.6) rotate(-90)" text-anchor="middle" font-size="14.9"><tspan font-style="italic">a</tspan>/mm*s<tspan dy="-7.3" font-size="11.8">-2</tspan></text>
<path d="M177.7 150.2H197.2" stroke="#ff0000" stroke-width="1.3"/>
<text transform="translate(198.80 155.80) rotate(0.04)" font-size="14.7">X</text>
<path d="M177.7 166.4H197.2" stroke="#00ff00" stroke-width="1.3"/>
<text transform="translate(198.80 172.00) rotate(0.04)" font-size="14.7">Y</text>
<path d="M177.7 182.4H197.2" stroke="#0000ff" stroke-width="1.3"/>
<text transform="translate(198.80 188.00) rotate(0.04)" font-size="14.7">Z</text>
<text transform="translate(319.20 151.80) rotate(0.04)" text-anchor="end">5</text>
<text transform="translate(319.20 200.60) rotate(0.04)" text-anchor="end">0</text>
<text transform="translate(319.20 248.10) rotate(0.04)" text-anchor="end">-5</text>
<text transform="translate(323.60 260.90) rotate(0.04)" text-anchor="middle">0</text>
<text transform="translate(377.80 260.90) rotate(0.04)" text-anchor="middle">1</text>
<text transform="translate(432.00 260.90) rotate(0.04)" text-anchor="middle">2</text>
<text transform="translate(486.20 260.90) rotate(0.04)" text-anchor="middle">3</text>
<text transform="translate(540.40 260.90) rotate(0.04)" text-anchor="middle">4</text>
<text transform="translate(453.60 262.10) rotate(0.04)" font-style="italic" font-size="14.7">t/s</text>
<text transform="translate(325.60 240.20) rotate(0.04)" font-weight="bold" font-size="14.3">(d)</text>
<text transform="translate(306.0 195.6) rotate(-90)" text-anchor="middle" font-size="14.9"><tspan font-style="italic" font-size="17.3">α</tspan>/rad*s<tspan dy="-7.3" font-size="11.8">-2</tspan></text>
<path d="M501.2 156.1H520.6" stroke="#00ffff" stroke-width="1.3"/>
<text transform="translate(522.00 161.70) rotate(0.04)" font-size="14.7">A</text>
<path d="M501.2 172.2H520.6" stroke="#ff00ff" stroke-width="1.3"/>
<text transform="translate(522.00 177.80) rotate(0.04)" font-size="14.7">C</text>
</g>
</svg>
</body></html>
